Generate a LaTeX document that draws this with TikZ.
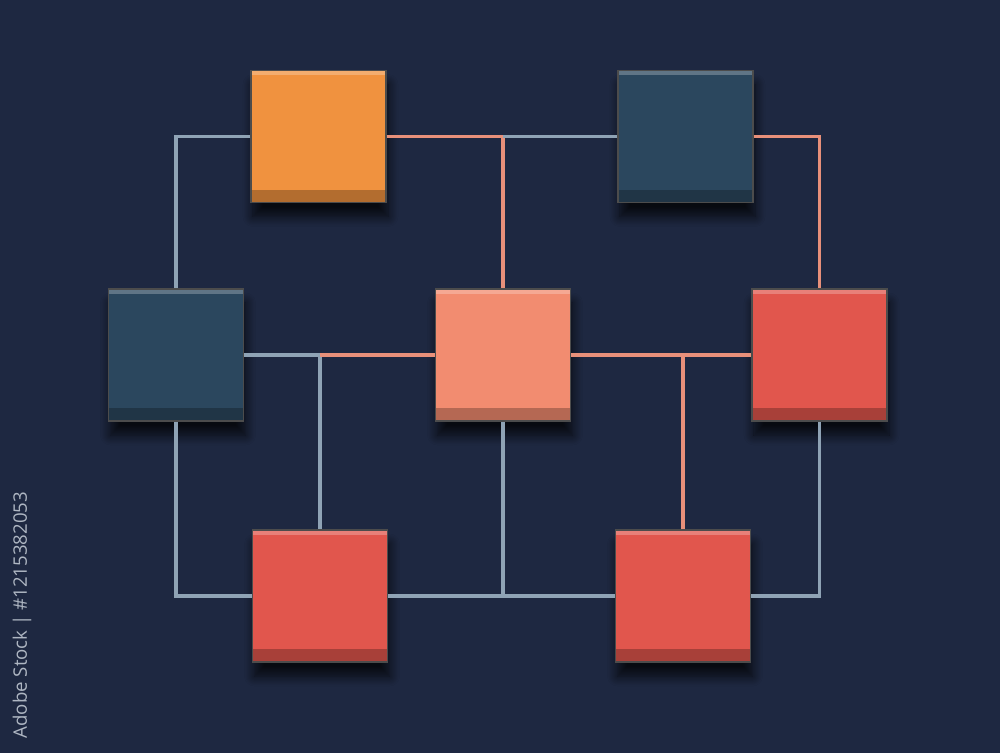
\documentclass[tikz,border=0pt]{standalone}
\usepackage{fontspec}
\newfontfamily\tagfont{Open Sans}
\usetikzlibrary{shadows.blur}

\definecolor{boardnavy}{HTML}{1E2841}
\definecolor{slateline}{HTML}{8FA3B5}
\definecolor{coralline}{HTML}{E8907A}
\definecolor{tileorange}{HTML}{F0923F}
\definecolor{tilenavy}{HTML}{2B475E}
\definecolor{tilesalmon}{HTML}{F28C70}
\definecolor{tilered}{HTML}{E1564D}
\definecolor{tagtext}{HTML}{AEB6C2}

\tikzset{
    tile/.style={draw=black!70, line width=0.4pt, minimum width=1.35cm,
        minimum height=1.32cm, inner sep=0pt,
        blur shadow={shadow xshift=0.02cm, shadow yshift=-0.14cm,
            shadow opacity=75, shadow blur steps=10, shadow blur radius=0.1cm},
        path picture={
            \fill[black, opacity=0.25] (path picture bounding box.south west)
                rectangle ([yshift=0.13cm]path picture bounding box.south east);
            \fill[white, opacity=0.25] (path picture bounding box.north west)
                rectangle ([yshift=-0.05cm]path picture bounding box.north east);
        }},
    slatewire/.style={draw=slateline, line width=1.1pt},
    coralwire/.style={draw=coralline, line width=1.1pt}
}

\begin{document}
\begin{tikzpicture}[x=0.01cm, y=-0.01cm]
            \fill[boardnavy] (0,0) rectangle (1000,753);
            \useasboundingbox (0,0) rectangle (1000,753);
            \node[tile, fill=tileorange] (orange) at (318.5,136.5) {};
            \node[tile, fill=tilenavy] (navyT) at (685.5,136.5) {};
            \node[tile, fill=tilenavy] (navyL) at (176,355) {};
            \node[tile, fill=tilesalmon] (salmonC) at (503,355) {};
            \node[tile, fill=tilered] (redR) at (819.5,355) {};
            \node[tile, fill=tilered] (redBL) at (320,596) {};
            \node[tile, fill=tilered] (redBR) at (683,596) {};
            \draw[slatewire] (orange.west) -| (navyL.north);
            \draw[coralwire] (orange.east) -| (salmonC.north);
            \draw[slatewire] (navyT.west) -- (salmonC.north |- navyT.west);
            \draw[coralwire] (navyT.east) -| (redR.north);
            \draw[slatewire] (navyL.east) -| (redBL.north);
            \draw[coralwire] (salmonC.west) -- (redBL.north |- salmonC.west);
            \draw[coralwire] (salmonC.east) -- (redR.west);
            \draw[coralwire] (redBR.north) -- (redBR.north |- salmonC.east);
            \draw[slatewire] (navyL.south) |- (redBL.west);
            \draw[slatewire] (redBL.east) -- (redBR.west);
            \draw[slatewire] (salmonC.south) -- (salmonC.south |- redBL.east);
            \draw[slatewire] (redBR.east) -| (redR.south);
            \node[rotate=90, text=tagtext, font=\tagfont\fontsize{5.3}{6}\selectfont]
                (stockid) at (22,615) {Adobe Stock | \#1215382053};
        \end{tikzpicture}
\end{document}
